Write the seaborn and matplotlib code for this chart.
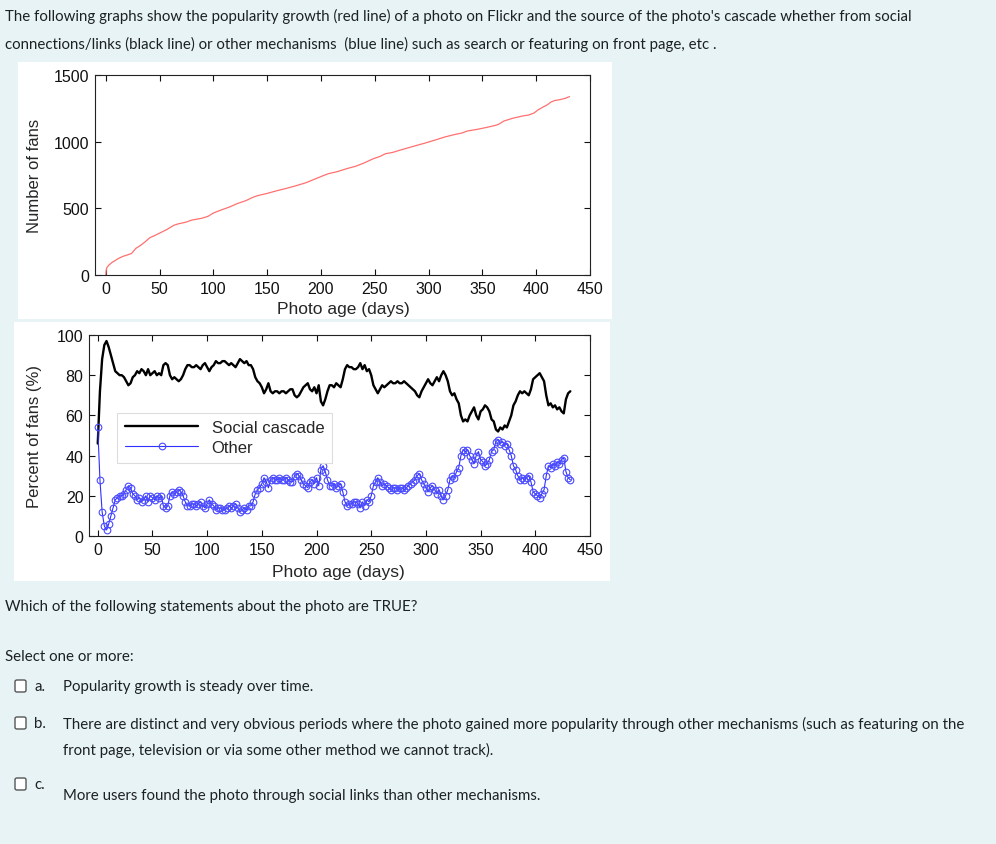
#!/usr/bin/env python3
"""
Flickr photo popularity: fans over time and where the fans came from
"""
import matplotlib
matplotlib.use('Agg')
import matplotlib.pyplot as plt
from matplotlib.patches import Rectangle, FancyBboxPatch
import seaborn as sns

# --- top chart: cumulative fans (red line) ---
fan_days = [0, 0.5, 1, 3, 6, 9, 12, 16, 20, 24,
            28, 32, 36, 41, 46, 52, 57, 63, 68, 74,
            80, 89, 95, 100, 108, 115, 122, 130, 136, 141,
            150, 159, 168, 177, 186, 196, 202, 207, 215, 225,
            232, 240, 248, 255, 260, 266, 275, 288, 297, 306,
            315, 325, 331, 336, 345, 354, 362, 365, 370, 378,
            387, 393, 398, 402, 406, 410, 414, 417, 422, 427,
            431]
fan_counts = [0, 40, 55, 75, 95, 110, 125, 140, 150, 162,
              200, 220, 245, 280, 298, 322, 342, 372, 385, 395,
              412, 425, 440, 465, 490, 510, 535, 557, 580, 595,
              612, 632, 650, 670, 692, 725, 745, 760, 775, 800,
              815, 840, 870, 890, 910, 918, 940, 970, 990, 1012,
              1035, 1055, 1065, 1080, 1092, 1107, 1122, 1130, 1155, 1175,
              1192, 1200, 1215, 1240, 1258, 1275, 1298, 1308, 1315, 1325,
              1338]

# --- bottom chart: share of fans by source, every 2 days from day 0 to 432 ---
share_days = list(range(0, 433, 2))
social = [46, 72, 88, 95, 97, 94, 90, 86, 82, 81,
          80, 80, 79, 77, 75, 76, 79, 80, 82, 81,
          83, 82, 80, 83, 80, 81, 82, 80, 81, 80,
          85, 86, 85, 80, 78, 79, 78, 77, 78, 80,
          83, 85, 85, 84, 84, 85, 84, 83, 85, 86,
          84, 82, 84, 85, 87, 86, 86, 87, 87, 86,
          85, 86, 85, 84, 86, 88, 87, 86, 87, 85,
          85, 83, 79, 77, 76, 74, 71, 73, 76, 72,
          71, 72, 72, 71, 72, 72, 71, 72, 73, 73,
          70, 69, 70, 72, 74, 75, 76, 73, 72, 74,
          71, 75, 67, 65, 68, 72, 75, 75, 74, 76,
          75, 74, 78, 83, 85, 84, 84, 83, 83, 84,
          86, 83, 85, 82, 83, 80, 75, 73, 71, 73,
          75, 74, 75, 76, 77, 76, 76, 77, 76, 76,
          77, 76, 75, 74, 73, 72, 70, 69, 72, 74,
          76, 78, 76, 75, 77, 79, 77, 80, 82, 80,
          77, 72, 70, 71, 68, 66, 60, 57, 58, 57,
          60, 62, 64, 60, 58, 62, 63, 65, 64, 62,
          58, 57, 53, 52, 54, 53, 55, 54, 57, 60,
          65, 67, 70, 72, 71, 72, 71, 70, 73, 78,
          79, 80, 81, 79, 77, 70, 65, 66, 64, 65,
          63, 64, 62, 61, 68, 71, 72]
other = [54, 28, 12, 5, 3, 6, 10, 14, 18, 19,
         20, 20, 21, 23, 25, 24, 21, 20, 18, 19,
         17, 18, 20, 17, 20, 19, 18, 20, 19, 20,
         15, 14, 15, 20, 22, 21, 22, 23, 22, 20,
         17, 15, 15, 16, 16, 15, 16, 17, 15, 14,
         16, 18, 16, 15, 13, 14, 14, 13, 13, 14,
         15, 14, 15, 16, 14, 12, 13, 14, 13, 15,
         15, 17, 21, 23, 24, 26, 29, 27, 24, 28,
         29, 28, 28, 29, 28, 28, 29, 28, 27, 27,
         30, 31, 30, 28, 26, 25, 24, 27, 28, 26,
         29, 25, 33, 35, 32, 28, 25, 25, 26, 24,
         25, 26, 22, 17, 15, 16, 16, 17, 17, 16,
         14, 17, 15, 18, 17, 20, 25, 27, 29, 27,
         25, 26, 25, 24, 23, 24, 24, 23, 24, 24,
         23, 24, 25, 26, 27, 28, 30, 31, 28, 26,
         24, 22, 24, 25, 23, 21, 23, 20, 18, 20,
         23, 28, 30, 29, 32, 34, 40, 43, 42, 43,
         40, 38, 36, 40, 42, 38, 37, 35, 36, 38,
         42, 43, 47, 48, 46, 47, 45, 46, 43, 40,
         35, 33, 30, 28, 29, 28, 29, 30, 27, 22,
         21, 20, 19, 21, 23, 30, 35, 34, 36, 35,
         37, 36, 38, 39, 32, 29, 28]

x_ticks = [0, 50, 100, 150, 200, 250, 300, 350, 400, 450]
fan_ticks = [0, 500, 1000, 1500]
pct_ticks = [0, 20, 40, 60, 80, 100]

intro = ("The following graphs show the popularity growth (red line) of a photo on Flickr and the source "
         "of the photo's cascade whether from social",
         "connections/links (black line) or other mechanisms  (blue line) such as search or featuring on "
         "front page, etc .")
question = "Which of the following statements about the photo are TRUE?"
options = [("a.", ["Popularity growth is steady over time."]),
           ("b.", ["There are distinct and very obvious periods where the photo gained more popularity "
                   "through other mechanisms (such as featuring on the",
                   "front page, television or via some other method we cannot track)."]),
           ("c.", ["More users found the photo through social links than other mechanisms."])]

W, H = 996, 845
PAGE_BG = '#e7f3f5'
TEXT = '#1d2125'
PAGE_FONT = ['Lato', 'DejaVu Sans']
PAGE_SIZE = 10.85

sns.set_style('ticks')
plt.rcParams['font.family'] = ['Liberation Sans', 'DejaVu Sans']


def fig_box(x0, y0, x1, y1):
    """pixel box (top-left origin) -> figure fraction rect"""
    return [x0 / W, 1 - y1 / H, (x1 - x0) / W, (y1 - y0) / H]


def style_axes(ax):
    for s in ax.spines.values():
        s.set_visible(True)
        s.set_color('#222222')
        s.set_linewidth(0.8)
    ax.tick_params(direction='in', top=True, right=True, length=4, width=0.8,
                   labelsize=11.5, colors='#111111', pad=4)
    ax.set_facecolor('white')


fig = plt.figure(figsize=(W / 100, H / 100), dpi=100)
fig.patch.set_facecolor(PAGE_BG)

# white image panels behind the charts
for box in [(18, 63, 612, 320), (14, 323, 610, 582)]:
    r = fig_box(*box)
    fig.add_artist(Rectangle((r[0], r[1]), r[2], r[3], transform=fig.transFigure,
                             facecolor='white', edgecolor='none', zorder=-1))

# Top chart
ax1 = fig.add_axes(fig_box(95, 76, 590, 276))
sns.lineplot(x=fan_days, y=fan_counts, ax=ax1, color='#ff7070', linewidth=0.9)
ax1.set_xlim(-10, 450)
ax1.set_ylim(0, 1500)
ax1.set_xticks(x_ticks)
ax1.set_yticks(fan_ticks)
style_axes(ax1)
ax1.set_xlabel('Photo age (days)', fontsize=12.5)
ax1.set_ylabel('Number of fans', fontsize=12)
ax1.xaxis.set_label_coords(0.501, -0.13)
ax1.yaxis.set_label_coords(-0.107, 0.5)

# Bottom chart
ax2 = fig.add_axes(fig_box(89, 336, 590, 537))
sns.lineplot(x=share_days, y=social, ax=ax2, color='black', linewidth=1.7,
             label='Social cascade')
sns.lineplot(x=share_days, y=other, ax=ax2, color='#3030ff', linewidth=0.8,
             marker='o', markersize=4.8, markerfacecolor='none',
             markeredgecolor='#4a4aff', markeredgewidth=0.8, label='Other')
ax2.set_xlim(-8, 450)
ax2.set_ylim(0, 100)
ax2.set_xticks(x_ticks)
ax2.set_yticks(pct_ticks)
style_axes(ax2)
ax2.set_xlabel('Photo age (days)', fontsize=12.5)
ax2.set_ylabel('Percent of fans (%)', fontsize=12)
ax2.xaxis.set_label_coords(0.497, -0.14)
ax2.yaxis.set_label_coords(-0.094, 0.5)
leg = ax2.legend(loc='upper left', bbox_to_anchor=(0.04, 0.655), fontsize=12,
                 frameon=True, fancybox=False, framealpha=1, edgecolor='#dddddd',
                 handlelength=4.4, borderpad=0.45, labelspacing=0.3)
leg.get_frame().set_linewidth(0.8)

# Page text
fig.text(5 / W, 1 - 16 / H, intro[0], fontsize=PAGE_SIZE, family=PAGE_FONT, color=TEXT, va='center')
fig.text(5 / W, 1 - 44 / H, intro[1], fontsize=PAGE_SIZE, family=PAGE_FONT, color=TEXT, va='center')
fig.text(5 / W, 1 - 607 / H, question, fontsize=PAGE_SIZE, family=PAGE_FONT, color=TEXT, va='center')
fig.text(5 / W, 1 - 657 / H, 'Select one or more:', fontsize=PAGE_SIZE, family=PAGE_FONT,
         color=TEXT, va='center')

option_rows = [687, 724, 796]
box_rows = [687, 724, 785]
for (letter, lines), ty, by in zip(options, option_rows, box_rows):
    fig.add_artist(FancyBboxPatch((15 / W, 1 - (by + 6) / H), 11 / W, 12 / H,
                                  boxstyle='round,pad=0,rounding_size=0.002',
                                  transform=fig.transFigure, facecolor='white',
                                  edgecolor='#555555', linewidth=1.0))
    fig.text(34 / W, 1 - by / H, letter, fontsize=PAGE_SIZE, family=PAGE_FONT, color=TEXT, va='center')
    for i, line in enumerate(lines):
        fig.text(63 / W, 1 - (ty + 26 * i) / H, line, fontsize=PAGE_SIZE, family=PAGE_FONT,
                 color=TEXT, va='center')

plt.savefig('out.png', dpi=100, facecolor=fig.get_facecolor())
plt.close()
